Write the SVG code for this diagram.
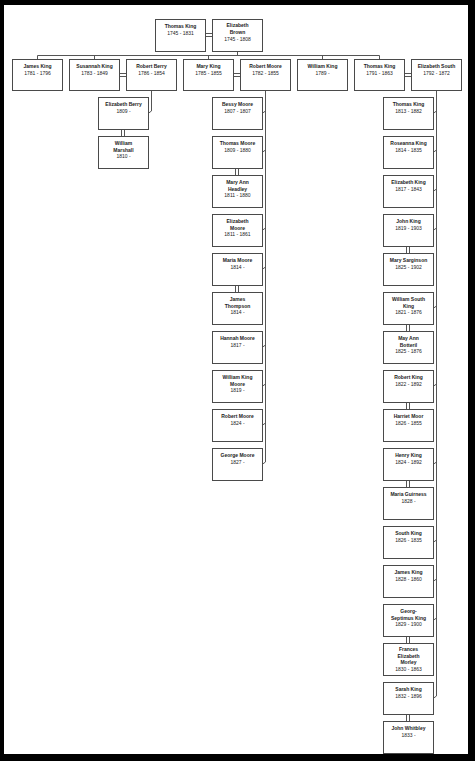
<svg xmlns="http://www.w3.org/2000/svg" width="475" height="761" viewBox="0 0 475 761">
<style>
.b rect{fill:#fff;stroke:#4a4a4a;stroke-width:1}
text{font-family:"Liberation Sans",Arial,sans-serif;font-size:5px;text-anchor:middle;fill:#222}
.n{font-weight:bold}
.c{fill:none;stroke:#555;stroke-width:1}
</style>
<rect x="0" y="0" width="475" height="761" fill="#000"/>
<rect x="4" y="5" width="464" height="749" fill="#fff"/>
<g id="connectors" class="c">
<path d="M205,33.5H212M205,36.5H212"/>
<path d="M237.5,51V55.5M37.5,55.5H379.5M37.5,55.5V59M94.5,55.5V59M208.5,55.5V59M322.5,55.5V59M379.5,55.5V59"/>
<path d="M119,73.5H126M119,76.5H126M233,73.5H240M233,76.5H240M404,73.5H411M404,76.5H411"/>
<path d="M151.5,90V111L148,113.5"/>
<path d="M121.5,129V136M124.5,129V136"/>
<path d="M265.5,90V462"/>
<path d="M265.5,111L262,113.5M265.5,150L262,152.5M265.5,228L262,230.5M265.5,267L262,269.5M265.5,345L262,347.5M265.5,384L262,386.5M265.5,423L262,425.5M265.5,462L262,464.5"/>
<path d="M235.5,168V175M238.5,168V175M235.5,285V292M238.5,285V292"/>
<path d="M436.5,90V696"/>
<path d="M436.5,111L433,113.5M436.5,150L433,152.5M436.5,189L433,191.5M436.5,228L433,230.5M436.5,306L433,308.5M436.5,384L433,386.5M436.5,462L433,464.5M436.5,540L433,542.5M436.5,579L433,581.5M436.5,618L433,620.5M436.5,696L433,698.5"/>
<path d="M406.5,246V253M409.5,246V253M406.5,324V331M409.5,324V331M406.5,402V409M409.5,402V409M406.5,480V487M409.5,480V487M406.5,636V643M409.5,636V643M406.5,714V721M409.5,714V721"/>
</g>
<g id="thomas_king_1745" class="b"><rect x="155.5" y="19.5" width="50" height="32"/><text class="n" x="180.5" y="28">Thomas King</text><text x="180.5" y="35">1745 - 1831</text></g>
<g id="elizabeth_brown" class="b"><rect x="212.5" y="19.5" width="50" height="32"/><text class="n" x="237.5" y="27">Elizabeth</text><text class="n" x="237.5" y="34">Brown</text><text x="237.5" y="41">1745 - 1808</text></g>
<g id="james_king_1781" class="b"><rect x="12.5" y="59.5" width="50" height="31"/><text class="n" x="37.5" y="68">James King</text><text x="37.5" y="75">1781 - 1796</text></g>
<g id="susannah_king" class="b"><rect x="69.5" y="59.5" width="50" height="31"/><text class="n" x="94.5" y="68">Susannah King</text><text x="94.5" y="75">1783 - 1849</text></g>
<g id="robert_berry" class="b"><rect x="126.5" y="59.5" width="50" height="31"/><text class="n" x="151.5" y="68">Robert Berry</text><text x="151.5" y="75">1786 - 1854</text></g>
<g id="mary_king" class="b"><rect x="183.5" y="59.5" width="50" height="31"/><text class="n" x="208.5" y="68">Mary King</text><text x="208.5" y="75">1785 - 1855</text></g>
<g id="robert_moore_1782" class="b"><rect x="240.5" y="59.5" width="50" height="31"/><text class="n" x="265.5" y="68">Robert Moore</text><text x="265.5" y="75">1782 - 1855</text></g>
<g id="william_king_1789" class="b"><rect x="297.5" y="59.5" width="50" height="31"/><text class="n" x="322.5" y="68">William King</text><text x="322.5" y="75">1789 -</text></g>
<g id="thomas_king_1791" class="b"><rect x="354.5" y="59.5" width="50" height="31"/><text class="n" x="379.5" y="68">Thomas King</text><text x="379.5" y="75">1791 - 1863</text></g>
<g id="elizabeth_south" class="b"><rect x="411.5" y="59.5" width="50" height="31"/><text class="n" x="436.5" y="68">Elizabeth South</text><text x="436.5" y="75">1792 - 1872</text></g>
<g id="elizabeth_berry" class="b"><rect x="98.5" y="97.5" width="50" height="32"/><text class="n" x="123.5" y="106">Elizabeth Berry</text><text x="123.5" y="113">1809 -</text></g>
<g id="william_marshall" class="b"><rect x="98.5" y="136.5" width="50" height="32"/><text class="n" x="123.5" y="145">William</text><text class="n" x="123.5" y="151.5">Marshall</text><text x="123.5" y="158">1810 -</text></g>
<g id="bessy_moore" class="b"><rect x="212.5" y="97.5" width="50" height="32"/><text class="n" x="237.5" y="106">Bessy Moore</text><text x="237.5" y="113">1807 - 1807</text></g>
<g id="thomas_moore" class="b"><rect x="212.5" y="136.5" width="50" height="32"/><text class="n" x="237.5" y="145">Thomas Moore</text><text x="237.5" y="152">1809 - 1880</text></g>
<g id="mary_ann_headley" class="b"><rect x="212.5" y="175.5" width="50" height="32"/><text class="n" x="237.5" y="184">Mary Ann</text><text class="n" x="237.5" y="190.5">Headley</text><text x="237.5" y="197">1811 - 1880</text></g>
<g id="elizabeth_moore" class="b"><rect x="212.5" y="214.5" width="50" height="32"/><text class="n" x="237.5" y="223">Elizabeth</text><text class="n" x="237.5" y="229.5">Moore</text><text x="237.5" y="236">1811 - 1861</text></g>
<g id="maria_moore" class="b"><rect x="212.5" y="253.5" width="50" height="32"/><text class="n" x="237.5" y="262">Maria Moore</text><text x="237.5" y="269">1814 -</text></g>
<g id="james_thompson" class="b"><rect x="212.5" y="292.5" width="50" height="32"/><text class="n" x="237.5" y="301">James</text><text class="n" x="237.5" y="307.5">Thompson</text><text x="237.5" y="314">1814 -</text></g>
<g id="hannah_moore" class="b"><rect x="212.5" y="331.5" width="50" height="32"/><text class="n" x="237.5" y="340">Hannah Moore</text><text x="237.5" y="347">1817 -</text></g>
<g id="william_king_moore" class="b"><rect x="212.5" y="370.5" width="50" height="32"/><text class="n" x="237.5" y="379">William King</text><text class="n" x="237.5" y="385.5">Moore</text><text x="237.5" y="392">1819 -</text></g>
<g id="robert_moore_1824" class="b"><rect x="212.5" y="409.5" width="50" height="32"/><text class="n" x="237.5" y="418">Robert Moore</text><text x="237.5" y="425">1824 -</text></g>
<g id="george_moore" class="b"><rect x="212.5" y="448.5" width="50" height="32"/><text class="n" x="237.5" y="457">George Moore</text><text x="237.5" y="464">1827 -</text></g>
<g id="thomas_king_1813" class="b"><rect x="383.5" y="97.5" width="50" height="32"/><text class="n" x="408.5" y="106">Thomas King</text><text x="408.5" y="113">1813 - 1882</text></g>
<g id="roseanna_king" class="b"><rect x="383.5" y="136.5" width="50" height="32"/><text class="n" x="408.5" y="145">Roseanna King</text><text x="408.5" y="152">1814 - 1835</text></g>
<g id="elizabeth_king" class="b"><rect x="383.5" y="175.5" width="50" height="32"/><text class="n" x="408.5" y="184">Elizabeth King</text><text x="408.5" y="191">1817 - 1843</text></g>
<g id="john_king" class="b"><rect x="383.5" y="214.5" width="50" height="32"/><text class="n" x="408.5" y="223">John King</text><text x="408.5" y="230">1819 - 1903</text></g>
<g id="mary_sarginson" class="b"><rect x="383.5" y="253.5" width="50" height="32"/><text class="n" x="408.5" y="262">Mary Sarginson</text><text x="408.5" y="269">1825 - 1902</text></g>
<g id="william_south_king" class="b"><rect x="383.5" y="292.5" width="50" height="32"/><text class="n" x="408.5" y="301">William South</text><text class="n" x="408.5" y="307.5">King</text><text x="408.5" y="314">1821 - 1876</text></g>
<g id="may_ann_botteril" class="b"><rect x="383.5" y="331.5" width="50" height="32"/><text class="n" x="408.5" y="340">May Ann</text><text class="n" x="408.5" y="346.5">Botteril</text><text x="408.5" y="353">1825 - 1876</text></g>
<g id="robert_king" class="b"><rect x="383.5" y="370.5" width="50" height="32"/><text class="n" x="408.5" y="379">Robert King</text><text x="408.5" y="386">1822 - 1892</text></g>
<g id="harriet_moor" class="b"><rect x="383.5" y="409.5" width="50" height="32"/><text class="n" x="408.5" y="418">Harriet Moor</text><text x="408.5" y="425">1826 - 1855</text></g>
<g id="henry_king" class="b"><rect x="383.5" y="448.5" width="50" height="32"/><text class="n" x="408.5" y="457">Henry King</text><text x="408.5" y="464">1824 - 1892</text></g>
<g id="maria_guirness" class="b"><rect x="383.5" y="487.5" width="50" height="32"/><text class="n" x="408.5" y="496">Maria Guirness</text><text x="408.5" y="503">1828 -</text></g>
<g id="south_king" class="b"><rect x="383.5" y="526.5" width="50" height="32"/><text class="n" x="408.5" y="535">South King</text><text x="408.5" y="542">1826 - 1835</text></g>
<g id="james_king_1828" class="b"><rect x="383.5" y="565.5" width="50" height="32"/><text class="n" x="408.5" y="574">James King</text><text x="408.5" y="581">1828 - 1860</text></g>
<g id="georg_septimus_king" class="b"><rect x="383.5" y="604.5" width="50" height="32"/><text class="n" x="408.5" y="613">Georg-</text><text class="n" x="408.5" y="619.5">Septimus King</text><text x="408.5" y="626">1829 - 1900</text></g>
<g id="frances_elizabeth_morley" class="b"><rect x="383.5" y="643.5" width="50" height="32"/><text class="n" x="408.5" y="651">Frances</text><text class="n" x="408.5" y="657.5">Elizabeth</text><text class="n" x="408.5" y="664">Morley</text><text x="408.5" y="670.5">1830 - 1863</text></g>
<g id="sarah_king" class="b"><rect x="383.5" y="682.5" width="50" height="32"/><text class="n" x="408.5" y="691">Sarah King</text><text x="408.5" y="698">1832 - 1896</text></g>
<g id="john_whitbley" class="b"><rect x="383.5" y="721.5" width="50" height="32"/><text class="n" x="408.5" y="730">John Whitbley</text><text x="408.5" y="737">1833 -</text></g>
</svg>
